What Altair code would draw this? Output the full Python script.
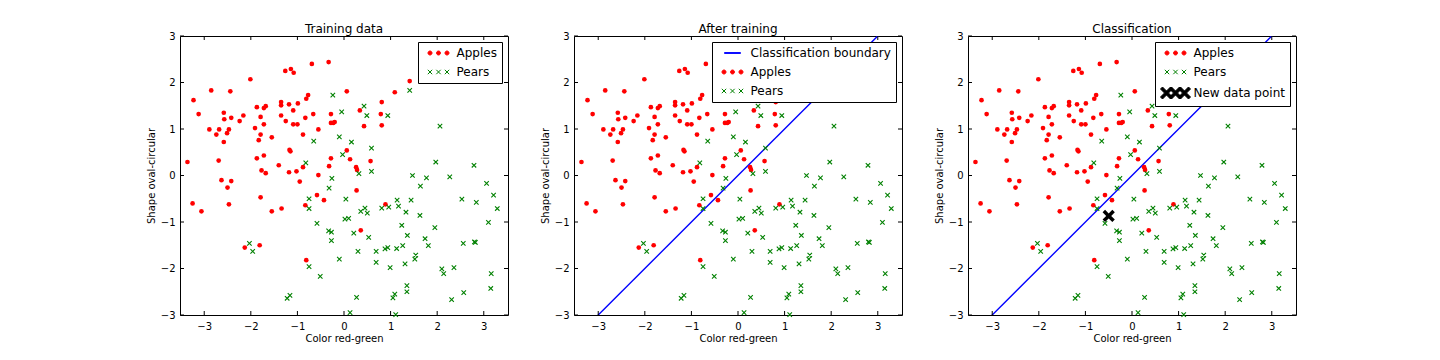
import math
import altair as alt
import pandas as pd

# ---------------- data ----------------
apple_x = [-3.36, -3.23, -3.12, -2.85, -2.44, -2.01, -2.58, -2.57, -2.42, -2.24,
           -2.16, -2.89, -2.68, -2.74, -2.47, -2.51, -2.58, -2.69, -1.91, -1.87,
           -1.79, -1.72, -1.68, -1.72, -1.79, -1.83, -1.87, -1.72, -1.77, -1.68,
           -1.55, -1.40, -1.35, -1.35, -1.35, -1.25, -1.26, -1.14, -1.08, -1.18,
           -1.09, -0.99, -1.09, -1.00, -1.17, -1.15, -0.88, -0.83, -0.81, -0.77,
           -0.69, -0.66, -0.55, -1.18, -1.02, -0.88, -0.55, -0.33, -0.28, -0.28,
           -0.23, -0.20, -0.28, -0.32,
           0.06, 0.34, 0.43, 0.79, 0.81, 0.81, 1.09, 1.41, 0.06, 0.13,
           0.26, 0.28, 0.57,
           -2.63, -2.50, -2.42, -3.25, -3.06, -2.47, -1.79, -1.55, -1.34, -0.95,
           -0.58, -0.43, -0.83, -2.13, -1.81, -0.81,
           0.27, 0.89, 0.36]
apple_y = [0.29, 1.62, 1.32, 1.83, 1.81, 2.07, 1.35, 1.21, 1.24, 1.17,
           1.29, 0.99, 0.99, 0.88, 0.99, 0.91, 0.72, 0.32, 1.02, 1.47,
           1.26, 1.45, 1.49, 1.10, 0.88, 0.76, 0.37, 0.43, 0.11, 0.05,
           0.82, 0.22, 1.58, 1.51, 1.29, 1.17, 2.25, 2.29, 2.21, 1.53,
           1.40, 1.55, 1.10, 1.10, 0.55, 0.52, 0.88, 1.24, 1.65, 1.73,
           2.40, 1.32, 0.99, 0.07, 0.09, 0.18, 0.01, 2.44, 1.32, 1.13,
           1.13, 1.15, 0.37, 0.20,
           1.81, 1.40, 1.06, 1.32, 1.58, 1.08, 1.79, 2.03, 0.54, 0.35,
           0.18, 0.12, 0.31,
           -0.10, -0.26, -0.12, -0.60, -0.77, -0.62, -0.47, -0.77, -0.71, -0.13,
           -0.42, -0.53, -0.64, -1.55, -1.50, -1.82,
           -0.32, -0.62, -1.18]

pear_x = [-0.24, -0.65, -0.82, -0.10,
          -0.05, 0.43, 0.49, 0.94, 1.41, 2.06, 0.16, 0.59, -0.03, 0.59,
          0.32, 1.47, 1.97, 2.79,
          -0.26, -0.32, -0.75, -0.75, -0.58, -0.33, -0.27, -0.27, -0.10, -2.03,
          -1.96, -0.75, -0.51, -1.22, -1.16,
          1.77, 2.27, 3.06, 3.21, 3.29, 3.10, 2.84, 2.53, 1.64, 1.44,
          1.14, 1.17, 1.33, 1.63, 0.81, 0.96, 0.45, 0.36, 0.50, 0.04,
          0.02, 0.10, 0.21, 0.53, 1.24, 1.36, 1.95, 1.74, 1.81, 1.26,
          1.13, 0.94, 0.88, 0.69, 0.30, 0.69, 0.99, 1.31, 1.52, 1.54,
          2.56, 2.80, 2.82, 2.10, 2.14, 2.36, 3.16, 3.15, 2.57, 2.31,
          1.35, 1.35, 1.09, 1.05, 0.27, 0.13, 1.11]
pear_y = [1.73, 0.74, 0.27, 0.83,
          1.37, 1.49, 1.29, 1.29, 1.83, 1.06, 0.72, 0.59, 0.45, 0.09,
          0.04, 0.00, 0.29, 0.22,
          -0.06, -0.27, -0.50, -0.71, -1.03, -1.19, -1.22, -1.40, -1.80, -1.46,
          -1.63, -1.96, -2.17, -2.64, -2.58,
          -0.05, -0.03, -0.17, -0.42, -0.71, -1.01, -0.58, -0.51, -0.23, -0.53,
          -0.53, -0.66, -0.79, -0.86, -0.70, -0.68, -0.70, -0.77, -0.81, -0.51,
          -0.94, -0.92, -1.24, -1.33, -1.07, -1.29, -1.12, -1.36, -1.51, -1.51,
          -1.57, -1.55, -1.58, -1.63, -1.63, -1.87, -1.98, -1.90, -1.80, -1.71,
          -1.46, -1.43, -1.44, -2.01, -2.11, -1.98, -2.11, -2.43, -2.52, -2.67,
          -2.37, -2.50, -2.55, -2.63, -2.62, -2.95, -2.99]

boundary_x = [-3.52, 3.52]
boundary_y = [-3.52, 3.52]
new_point_x = [-0.50]
new_point_y = [-0.87]

tick_values = [-3, -2, -1, 0, 1, 2, 3]
panel_titles = ["Training data", "After training", "Classification"]
x_title = "Color red-green"
y_title = "Shape oval-circular"
x_domain = [-3.52, 3.52]
y_domain = [-3, 3]
legend_panel1 = ["Apples", "Pears"]
legend_panel2 = ["Classification boundary", "Apples", "Pears"]
legend_panel3 = ["Apples", "Pears", "New data point"]

assert len(apple_x) == len(apple_y)
assert len(pear_x) == len(pear_y)

# ---------------- styling ----------------
W, H = 328, 279
FONT = "DejaVu Sans"
RED, GREEN, BLUE, BLACK = "#ff0000", "#008000", "#0000ff", "#000000"


def poly(pts):
    return "M" + "L".join(f"{x:.3f},{y:.3f}" for x, y in pts) + "Z"


def circle_path(cx, r, n=16):
    return poly([(cx + r * math.cos(2 * math.pi * i / n), r * math.sin(2 * math.pi * i / n))
                 for i in range(n)])


def x_lines(cx, h):
    return f"M{cx - h},{-h}L{cx + h},{h}M{cx - h},{h}L{cx + h},{-h}"


def thick_x(cx, a, k):
    pts = [(-a, -a + k), (-a + k, -a), (0, -k), (a - k, -a), (a, -a + k), (k, 0),
           (a, a - k), (a - k, a), (0, k), (-a + k, a), (-a, a - k), (-k, 0)]
    return poly([(cx + x, y) for x, y in pts])


LEGEND_STYLE = {
    "Classification boundary": (BLUE, "M-4,-0.2L4,-0.2L4,0.2L-4,0.2Z"),
    "Apples": (RED, "".join(circle_path(c, 1.0) for c in (-4.25, 0, 4.25))),
    "Pears": (GREEN, "".join(x_lines(c, 1.1) for c in (-4.25, 0, 4.25))),
    "New data point": (BLACK, "".join(thick_x(c, 3.0, 1.0) for c in (-4.5, 0, 4.5))),
}

xs = alt.Scale(domain=x_domain, nice=False, zero=False)
ys = alt.Scale(domain=y_domain, nice=False, zero=False)

x_axis = alt.Axis(values=tick_values, title=x_title, grid=False, ticks=False, tickSize=0,
                  domain=False, labelPadding=6, titlePadding=2, labelOverlap=False)
y_axis = alt.Axis(values=tick_values, title=y_title, grid=False, ticks=False, tickSize=0,
                  domain=False, labelPadding=5, titlePadding=4, labelOverlap=False)

apples_df = pd.DataFrame({"x": apple_x, "y": apple_y})
pears_df = pd.DataFrame({"x": pear_x, "y": pear_y})
boundary_df = pd.DataFrame({"x": boundary_x, "y": boundary_y})
new_df = pd.DataFrame({"x": new_point_x, "y": new_point_y})
ticks_df = pd.DataFrame({"t": tick_values})


def X(field):
    return alt.X(field, type="quantitative", scale=xs, axis=x_axis)


def Y(field):
    return alt.Y(field, type="quantitative", scale=ys, axis=y_axis)


def tick_layers():
    base = alt.Chart(ticks_df).mark_rule(color="black", strokeWidth=1)
    return [
        base.encode(x=X("t"), y=alt.value(0), y2=alt.value(4)),
        base.encode(x=X("t"), y=alt.value(H), y2=alt.value(H - 4)),
        base.encode(y=Y("t"), x=alt.value(0), x2=alt.value(4)),
        base.encode(y=Y("t"), x=alt.value(W), x2=alt.value(W - 4)),
    ]


def panel(title, classes, boundary=False, newpoint=False):
    layers = []
    if boundary:
        layers.append(alt.Chart(boundary_df).mark_line(color=BLUE, strokeWidth=1.4, clip=True)
                      .encode(x=X("x"), y=Y("y")))
    layers.append(alt.Chart(apples_df).mark_circle(color=RED, size=22, opacity=1)
                  .encode(x=X("x"), y=Y("y")))
    layers.append(alt.Chart(pears_df).mark_point(shape="M-1,-1L1,1M-1,1L1,-1", filled=False,
                                                 color=GREEN, size=20, strokeWidth=1.1, opacity=1)
                  .encode(x=X("x"), y=Y("y")))
    if newpoint:
        layers.append(alt.Chart(new_df).mark_point(shape=thick_x(0, 1.0, 0.41), filled=True,
                                                   color=BLACK, size=150, opacity=1, strokeWidth=0)
                      .encode(x=X("x"), y=Y("y")))
    layers += tick_layers()

    colors = [LEGEND_STYLE[c][0] for c in classes]
    paths = [LEGEND_STYLE[c][1] for c in classes]
    leg = alt.Legend(title=None, orient="top-right", offset=6, fillColor="white",
                     strokeColor="black", padding=5, cornerRadius=0, labelFont=FONT,
                     labelFontSize=12, labelColor="black", symbolSize=16, symbolStrokeWidth=1,
                     symbolOpacity=1, symbolOffset=9.5, labelOffset=12, rowPadding=7,
                     labelLimit=400)
    leg_df = pd.DataFrame({"cls": classes, "x": [0.0] * len(classes), "y": [0.0] * len(classes)})
    layers.append(alt.Chart(leg_df).mark_point(opacity=0).encode(
        x=X("x"), y=Y("y"),
        fill=alt.Fill("cls:N", scale=alt.Scale(domain=classes, range=colors), legend=leg),
        stroke=alt.Stroke("cls:N", scale=alt.Scale(domain=classes, range=colors), legend=leg),
        shape=alt.Shape("cls:N", scale=alt.Scale(domain=classes, range=paths), legend=leg),
    ))
    return alt.layer(*layers).properties(
        width=W, height=H,
        title=alt.TitleParams(text=title, font=FONT, fontSize=12, fontWeight="normal",
                              color="black", offset=-14, baseline="alphabetic", anchor="middle"),
    )


chart = alt.hconcat(
    panel(panel_titles[0], legend_panel1),
    panel(panel_titles[1], legend_panel2, boundary=True),
    panel(panel_titles[2], legend_panel3, boundary=True, newpoint=True),
    spacing=66, bounds="flush",
).resolve_scale(
    fill="independent", stroke="independent", shape="independent"
).configure_view(
    stroke="black", strokeWidth=1
).configure_axis(
    labelFont=FONT, labelFontSize=10, labelColor="black",
    titleFont=FONT, titleFontSize=10, titleFontWeight="normal", titleColor="black",
).properties(
    padding={"left": 137, "top": 14, "right": 5, "bottom": 5},
    background="white",
)

chart.save("out.html", embed_options={"renderer": "svg", "actions": False})
